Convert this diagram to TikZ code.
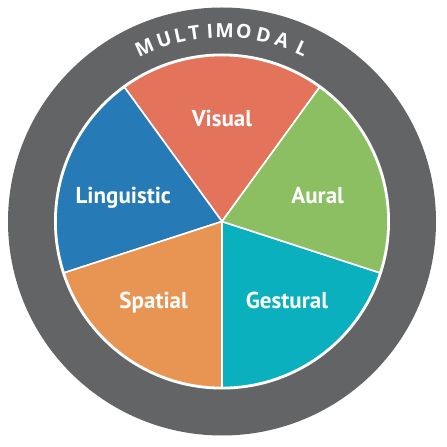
\documentclass[tikz,border=0pt]{standalone}
\usepackage{fontspec}
\setmainfont{PT Sans}
\newfontfamily\ringfont{Open Sans}
\usetikzlibrary{positioning}

\definecolor{ringgray}{RGB}{99,100,102}
\definecolor{visualred}{RGB}{228,115,92}
\definecolor{lingblue}{RGB}{38,122,182}
\definecolor{spatialorange}{RGB}{232,148,82}
\definecolor{gesturalteal}{RGB}{11,176,190}
\definecolor{auralgreen}{RGB}{139,191,98}

\begin{document}
\begin{tikzpicture}[
    x=1pt, y=1pt,
    slice/.style={draw=white, line width=1.6pt, line join=round},
    mode/.style={text=white, font=\fontsize{23}{25}\selectfont\bfseries, anchor=base, inner sep=0pt},
    ringletter/.style={text=white, font=\ringfont\fontsize{19.5}{21}\selectfont\bfseries, anchor=base, inner sep=0pt}
]
    \useasboundingbox (-222,-225.5) rectangle (225,221.5);

    % Outer ring
    \fill[ringgray] (0,0) circle[radius=214];
    \fill[white] (0,0) circle[radius=168];

    % Slices
    \filldraw[slice, fill=visualred] (0,0) -- (54:166) arc[start angle=54, end angle=126, radius=166] -- cycle;
    \filldraw[slice, fill=lingblue] (0,0) -- (126:166) arc[start angle=126, end angle=198, radius=166] -- cycle;
    \filldraw[slice, fill=spatialorange] (0,0) -- (198:166) arc[start angle=198, end angle=270, radius=166] -- cycle;
    \filldraw[slice, fill=gesturalteal] (0,0) -- (270:166) arc[start angle=270, end angle=342, radius=166] -- cycle;
    \filldraw[slice, fill=auralgreen] (0,0) -- (-18:166) arc[start angle=-18, end angle=54, radius=166] -- cycle;

    % Labels
    \node[mode] (visual) at (0,94.8) {Visual};
    \node[mode] (linguistic) at (-98.7,18.2) {Linguistic};
    \node[mode] (aural) at (95.7,18.4) {Aural};
    \node[mode] (spatial) at (-68.3,-86.8) {Spatial};
    \node[mode] (gestural) at (65,-86.6) {Gestural};

    % Ring title
    \foreach \ch/\ang [count=\i] in {M/114, U/107.7, L/102.8, T/98.4, I/93.6, M/89.2, O/83.4, D/77.4, A/71.6, L/65.3}
        \node[ringletter, rotate=\ang-90] (title\i) at (\ang:184) {\ch};

\end{tikzpicture}
\end{document}
